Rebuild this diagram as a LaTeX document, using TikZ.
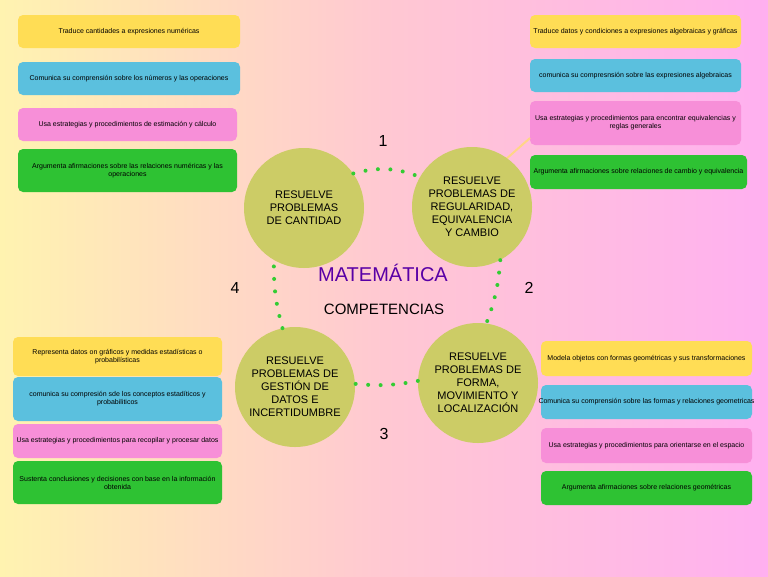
\documentclass[tikz,border=0pt]{standalone}
\usepackage{fontspec}
\setmainfont{Liberation Sans}
\begin{document}
\begin{tikzpicture}[x=1pt,y=-1pt,
  comp/.style={circle,fill=circ,minimum size=120pt,inner sep=0pt,align=center,font=\fontsize{11}{13}\selectfont},
  bx/.style={align=center,font=\fontsize{7}{8}\selectfont,inner sep=0pt},
  dots/.style={draw=dotg,line width=4pt,line cap=round,dash pattern=on 0pt off 12.5pt}]
\definecolor{circ}{HTML}{CCCC66}
\definecolor{dotg}{HTML}{33CC33}
\definecolor{yel}{HTML}{FFDD55}
\definecolor{blu}{HTML}{5BC0DE}
\definecolor{pnk}{HTML}{F78FD8}
\definecolor{grn}{HTML}{2EC233}
\definecolor{bgl}{HTML}{FFF3B0}
\definecolor{bgm}{HTML}{FFC8D2}
\definecolor{bgr}{HTML}{FFB0F0}
\useasboundingbox (0,0) rectangle (768,576);
\shade[left color=bgl,right color=bgm] (0,0) rectangle (384,576);
\shade[left color=bgm,right color=bgr] (384,0) rectangle (768,576);
\newcommand{\bxx}[6]{\fill[#5,rounded corners=5pt] (#1,#2) rectangle (#3,#4);
  \node[bx] at ({(#1+#3)/2},{(#2+#4)/2}) {#6};}
% left top
\bxx{18}{15}{240}{48}{yel}{Traduce cantidades a expresiones numéricas}
\bxx{18}{62}{240}{95}{blu}{Comunica su comprensión sobre los números y las operaciones}
\bxx{18}{108}{237}{141}{pnk}{Usa estrategias y procedimientos de estimación y cálculo}
\bxx{18}{149}{237}{192}{grn}{Argumenta afirmaciones sobre las relaciones numéricas y las\\operaciones}
% right top
\bxx{530}{15}{741}{48}{yel}{Traduce datos y condiciones a expresiones algebraicas y gráficas}
\bxx{530}{59}{741}{92}{blu}{comunica su compresnsión sobre las expresiones algebraicas}
\bxx{530}{101}{741}{145}{pnk}{Usa estrategias y procedimientos para encontrar equivalencias y\\reglas generales}
\bxx{530}{155}{747}{189}{grn}{Argumenta afirmaciones sobre relaciones de cambio y equivalencia}
% left bottom
\bxx{13}{337}{222}{376}{yel}{Representa datos on gráficos y medidas estadísticas o\\probabilísticas}
\bxx{13}{377}{222}{421}{blu}{comunica su compresión sde los conceptos estadíticos y\\probabiliticos}
\bxx{13}{424}{222}{458}{pnk}{Usa estrategias y procedimientos para recopilar y procesar datos}
\bxx{13}{461}{222}{504}{grn}{Sustenta conclusiones y decisiones con base en la información\\obtenida}
% right bottom
\bxx{541}{341}{752}{376}{yel}{Modela objetos con formas geométricas y sus transformaciones}
\bxx{541}{385}{752}{419}{blu}{Comunica su comprensión sobre las formas y relaciones geometricas}
\bxx{541}{428}{752}{463}{pnk}{Usa estrategias y procedimientos para orientarse en el espacio}
\bxx{541}{471}{752}{505}{grn}{Argumenta afirmaciones sobre relaciones geométricas}
\draw[color=yel!60!bgm,line width=2pt] (505,160) -- (530,138);
\node[comp] (c1) at (304,208) {RESUELVE\\PROBLEMAS\\DE CANTIDAD};
\node[comp] (c2) at (472,207) {RESUELVE\\PROBLEMAS DE\\REGULARIDAD,\\EQUIVALENCIA\\Y CAMBIO};
\node[comp] (c3) at (478,383) {RESUELVE\\PROBLEMAS DE\\FORMA,\\MOVIMIENTO Y\\LOCALIZACIÓN};
\node[comp] (c4) at (295,387) {RESUELVE\\PROBLEMAS DE\\GESTIÓN DE\\DATOS E\\INCERTIDUMBRE};
\draw[dots] (c1.35) to[bend left=18] (c2.150);
\draw[dots] (c2.-62) to[bend left=8] (c3.82);
\draw[dots] (c3.178) to[bend left=8] (c4.3);
\draw[dots] (c4.102) to[bend left=8] (c1.-120);
\node[font=\fontsize{20}{22}\selectfont,text=violet!70!blue] (t) at (383,273) {MATEMÁTICA};
\node[font=\fontsize{15}{17}\selectfont] (s) at (384,309) {COMPETENCIAS};
\node[font=\fontsize{16}{18}\selectfont] (n1) at (383,141) {1};
\node[font=\fontsize{16}{18}\selectfont] (n2) at (529,288) {2};
\node[font=\fontsize{16}{18}\selectfont] (n3) at (384,434) {3};
\node[font=\fontsize{16}{18}\selectfont] (n4) at (235,288) {4};
\end{tikzpicture}
\end{document}
